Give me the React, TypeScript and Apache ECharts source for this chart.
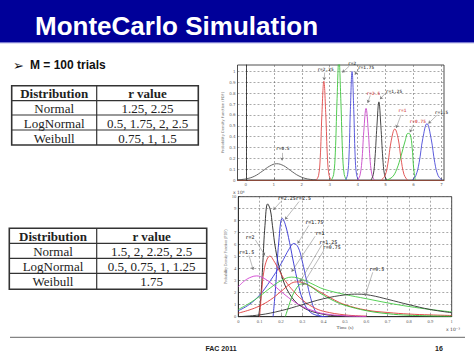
import React, { useEffect, useRef } from "react";
import * as echarts from "echarts";

const headerTitle = "MonteCarlo Simulation";
const bulletText = "M = 100 trials";
const tableHeader = ["Distribution", "r value"];
const table1Rows = [
  ["Normal", "1.25, 2.25"],
  ["LogNormal", "0.5, 1.75, 2, 2.5"],
  ["Weibull", "0.75, 1, 1.5"],
];
const table2Rows = [
  ["Normal", "1.5, 2, 2.25, 2.5"],
  ["LogNormal", "0.5, 0.75, 1, 1.25"],
  ["Weibull", "1.75"],
];
const footerText = "FAC 2011";
const pageNumber = "16";

const topXTicks = [0, 1, 2, 3, 4, 5, 6, 7];
const topYTicks = [0, 0.1, 0.2, 0.3, 0.4, 0.5, 0.6, 0.7, 0.8, 0.9, 1];

// top chart curves [x, pdf]
const topR050 = [[-0.3, 0.002], [0, 0.01], [0.3, 0.034], [0.6, 0.083], [0.85, 0.128], [1.1, 0.15], [1.35, 0.132], [1.6, 0.087], [1.9, 0.037], [2.2, 0.01], [2.55, 0.001]];
const topR225 = [[2.52, 0], [2.6, 0.04], [2.66, 0.2], [2.72, 0.6], [2.79, 0.91], [2.86, 0.6], [2.92, 0.2], [2.98, 0.04], [3.06, 0]];
const topR200 = [[3.06, 0], [3.14, 0.05], [3.2, 0.25], [3.26, 0.72], [3.33, 1.12], [3.4, 0.72], [3.46, 0.25], [3.52, 0.05], [3.6, 0]];
const topR175 = [[3.57, 0], [3.64, 0.05], [3.69, 0.22], [3.74, 0.65], [3.8, 1.0], [3.86, 0.65], [3.91, 0.22], [3.96, 0.05], [4.03, 0]];
const topR250 = [[4.0, 0], [4.08, 0.04], [4.15, 0.17], [4.22, 0.45], [4.3, 0.66], [4.38, 0.45], [4.45, 0.17], [4.52, 0.04], [4.6, 0]];
const topR125 = [[4.48, 0], [4.56, 0.05], [4.62, 0.2], [4.69, 0.5], [4.76, 0.72], [4.83, 0.5], [4.9, 0.2], [4.96, 0.05], [5.04, 0]];
const topR100 = [[4.85, 0], [4.98, 0.04], [5.08, 0.15], [5.2, 0.36], [5.33, 0.47], [5.45, 0.38], [5.55, 0.2], [5.66, 0.05], [5.78, 0]];
const topR075 = [[5.05, 0], [5.25, 0.03], [5.4, 0.1], [5.55, 0.22], [5.7, 0.36], [5.8, 0.43], [5.88, 0.42], [5.95, 0.3], [6.0, 0.12], [6.06, 0]];
const topR150 = [[5.95, 0], [6.08, 0.04], [6.2, 0.16], [6.33, 0.38], [6.48, 0.52], [6.63, 0.38], [6.76, 0.16], [6.88, 0.04], [7.02, 0]];

// bottom chart curves [time x1e-3, pdf x1e4]
const botR225 = [[0.095, 0], [0.105, 1.5], [0.115, 4.5], [0.125, 7.6], [0.1375, 9.4], [0.15, 8.9], [0.16, 7.6], [0.175, 5.6], [0.2, 3.6], [0.24, 1.9], [0.3, 0.8], [0.4, 0.2], [0.5, 0.05]];
const botR250 = [[0.163, 0], [0.175, 2.5], [0.19, 6.3], [0.206, 8.2], [0.22, 7.7], [0.24, 6.2], [0.26, 4.4], [0.28, 2.8], [0.3, 1.5], [0.33, 0.5], [0.37, 0.1], [0.42, 0]];
const botR175 = [[0, 0.5], [0.05, 1.0], [0.1, 1.8], [0.15, 3.0], [0.2, 4.4], [0.24, 5.7], [0.26, 6.1], [0.28, 5.8], [0.3, 4.6], [0.32, 3.0], [0.34, 1.5], [0.36, 0.5], [0.38, 0.1], [0.4, 0]];
const botR200 = [[0.1, 0], [0.11, 2.2], [0.12, 3.8], [0.135, 4.8], [0.148, 5.05], [0.165, 4.7], [0.19, 3.9], [0.22, 3.0], [0.26, 2.1], [0.3, 1.4], [0.35, 0.8], [0.4, 0.45], [0.5, 0.15], [0.6, 0.05]];
const botR150 = [[0, 2.5], [0.03, 3.0], [0.06, 3.3], [0.086, 3.4], [0.12, 3.2], [0.16, 2.7], [0.2, 2.1], [0.25, 1.4], [0.3, 0.85], [0.35, 0.5], [0.4, 0.25], [0.5, 0.07], [0.6, 0.02]];
const botR125 = [[0, 0.3], [0.05, 0.55], [0.1, 0.9], [0.15, 1.4], [0.2, 2.1], [0.25, 2.8], [0.28, 2.9], [0.32, 2.7], [0.38, 2.1], [0.45, 1.4], [0.5, 1.0], [0.6, 0.55], [0.7, 0.35], [0.8, 0.22], [0.9, 0.15], [1.0, 0.1]];
const botR075 = [[0, 0.6], [0.05, 1.1], [0.1, 1.7], [0.15, 2.4], [0.2, 3.0], [0.25, 3.3], [0.3, 3.1], [0.35, 2.7], [0.4, 2.3], [0.5, 1.85], [0.6, 1.5], [0.7, 1.15], [0.8, 0.85], [0.9, 0.6], [1.0, 0.4]];
const botR100 = [[0.22, 0], [0.235, 0.8], [0.25, 1.6], [0.27, 2.3], [0.29, 2.7], [0.31, 2.75], [0.34, 2.5], [0.38, 2.0], [0.45, 1.3], [0.5, 0.95], [0.6, 0.5], [0.7, 0.25], [0.8, 0.12], [1.0, 0.03]];
const botR050 = [[0, 0], [0.1, 0.15], [0.2, 0.5], [0.3, 1.0], [0.4, 1.5], [0.5, 1.82], [0.56, 1.88], [0.62, 1.78], [0.7, 1.45], [0.8, 1.0], [0.9, 0.6], [1.0, 0.33]];

// annotations: text, text x, text y, line start x, y, arrow end x, y, text colour
const topNotes: [string, number, number, number, number, number, number, string][] = [
  ["r=0.5", 1.32, 0.29, 1.3, 0.25, 1.29, 0.18, "#222"],
  ["r=2.25", 2.85, 1.02, 2.82, 0.99, 2.8, 0.92, "#222"],
  ["r=2", 3.8, 1.07, 3.7, 1.05, 3.45, 0.99, "#222"],
  ["r=1.75", 4.3, 1.04, 4.05, 1.03, 3.9, 0.97, "#222"],
  ["r=2.5", 4.56, 0.8, 4.45, 0.78, 4.36, 0.71, "#d03030"],
  ["r=1.25", 5.3, 0.815, 5.03, 0.81, 4.8, 0.745, "#222"],
  ["r=1", 5.6, 0.64, 5.55, 0.6, 5.38, 0.48, "#d03030"],
  ["r=0.75", 6.15, 0.535, 6.0, 0.51, 5.87, 0.44, "#d03030"],
  ["r=1.5", 7.0, 0.62, 6.85, 0.6, 6.53, 0.52, "#222"],
];
const botNotes: [string, number, number, number, number, number, number, string][] = [
  ["r=2.25", 0.227, 9.87, 0.2, 9.6, 0.164, 8.9, "#222"],
  ["r=2.5", 0.305, 9.87, 0.285, 9.6, 0.219, 8.1, "#222"],
  ["r=1.75", 0.356, 7.87, 0.33, 7.6, 0.278, 6.1, "#222"],
  ["r=1", 0.383, 6.95, 0.36, 6.7, 0.25, 3.75, "#222"],
  ["r=1.25", 0.422, 6.2, 0.39, 5.95, 0.289, 2.9, "#222"],
  ["r=0.75", 0.438, 5.78, 0.4, 5.5, 0.3, 2.6, "#222"],
  ["r=0.5", 0.649, 3.95, 0.63, 3.7, 0.594, 1.72, "#222"],
  ["r=2", 0.055, 6.67, 0.08, 6.4, 0.125, 5.1, "#222"],
  ["r=1.5", 0.039, 5.37, 0.05, 5.1, 0.07, 3.9, "#222"],
];

const topCurves: [number[][], string][] = [
  [topR050, "#555555"], [topR225, "#e04848"], [topR200, "#3cc43c"], [topR175, "#4a4ad8"],
  [topR250, "#c848c8"], [topR125, "#333333"], [topR100, "#e04848"], [topR075, "#3cc43c"], [topR150, "#4a4ad8"],
];
const botCurves: [number[][], string][] = [
  [botR225, "#222222"], [botR250, "#2f2fd0"], [botR175, "#3b3bd8"], [botR200, "#e04040"],
  [botR150, "#d040d0"], [botR125, "#e03a3a"], [botR075, "#44cc44"], [botR100, "#33c033"], [botR050, "#333333"],
];

function txt(x: number, y: number, text: string, font: string, fill: string, align = "left", valign = "middle") {
  return {
    type: "text",
    silent: true,
    style: { x, y, text, font, fill, align, textAlign: align, verticalAlign: valign, textVerticalAlign: valign },
  };
}

function makeTable(x0: number, x1: number, xDiv: number, rowYs: number[], rows: string[][]) {
  const els: any[] = [];
  const top = rowYs[0];
  const bottom = rowYs[rowYs.length - 1];
  els.push({ type: "rect", silent: true, shape: { x: x0, y: top, width: x1 - x0, height: bottom - top }, style: { fill: "#fff", stroke: "#333", lineWidth: 1.6 } });
  els.push({ type: "line", silent: true, shape: { x1: xDiv, y1: top, x2: xDiv, y2: bottom }, style: { stroke: "#333", lineWidth: 1.2 } });
  for (let i = 1; i < rowYs.length - 1; i++) {
    els.push({ type: "line", silent: true, shape: { x1: x0, y1: rowYs[i], x2: x1, y2: rowYs[i] }, style: { stroke: "#333", lineWidth: 1.2 } });
  }
  const c1 = (x0 + xDiv) / 2;
  const c2 = (xDiv + x1) / 2;
  const all = [tableHeader, ...rows];
  all.forEach((r, i) => {
    const cy = (rowYs[i] + rowYs[i + 1]) / 2 + 0.5;
    const font = i === 0 ? 'bold 13px "Liberation Serif"' : '13px "Liberation Serif"';
    els.push(txt(c1, cy, r[0], font, "#222", "center"));
    els.push(txt(c2, cy, r[1], font, "#222", "center"));
  });
  return els;
}

function noteSeries(notes: typeof topNotes, idx: number, fontSize: number) {
  return {
    type: "scatter",
    xAxisIndex: idx,
    yAxisIndex: idx,
    symbolSize: 1,
    clip: false,
    silent: true,
    itemStyle: { color: "transparent" },
    label: {
      show: true,
      position: "inside",
      formatter: "{b}",
      fontSize,
      fontFamily: "DejaVu Sans Mono",
      fontWeight: "bold",
    },
    data: notes.map((n) => ({ name: n[0], value: [n[1], n[2]], label: { color: n[7] } })),
    markLine: {
      silent: true,
      symbol: ["none", "arrow"],
      symbolSize: 3,
      label: { show: false },
      lineStyle: { color: "#777", width: 0.5, type: "solid" },
      data: notes.map((n) => [{ coord: [n[3], n[4]] }, { coord: [n[5], n[6]] }]),
    },
  };
}

export default function App() {
  const ref = useRef<HTMLDivElement>(null);
  useEffect(() => {
    if (!ref.current) return;
    const chart = echarts.init(ref.current, undefined, { renderer: "svg" });
    const splitStyle = { type: [2, 2], color: "#555", width: 0.5 };
    const graphic: any[] = [
      { type: "rect", silent: true, shape: { x: 0, y: 0, width: 474, height: 42 }, style: { fill: "#000099" } },
      { type: "rect", silent: true, shape: { x: 0, y: 42, width: 474, height: 1.2 }, style: { fill: "#7a7ad0" } },
      txt(35, 25.5, headerTitle, 'bold 26px "Liberation Sans"', "#ffffff"),
      txt(13, 65, "➢", '13px "DejaVu Sans"', "#111"),
      txt(30, 64.5, bulletText, 'bold 12px "Liberation Sans"', "#111"),
      ...makeTable(11.7, 198.3, 96.7, [85.7, 100.7, 115, 130, 145], table1Rows),
      ...makeTable(9.3, 206.7, 96.7, [228.3, 243.3, 258.3, 273.3, 289.3], table2Rows),
      { type: "line", silent: true, shape: { x1: 10, y1: 337.3, x2: 465, y2: 337.3 }, style: { stroke: "#666", lineWidth: 1 } },
      txt(221, 348, footerText, 'bold 7px "Liberation Sans"', "#222", "center"),
      txt(439, 348, pageNumber, 'bold 7px "Liberation Sans"', "#222", "center"),
      txt(233, 192.5, "x 10⁴", '4.5px "DejaVu Sans"', "#444"),
      txt(446, 329.5, "x 10⁻³", '4.5px "DejaVu Sans"', "#444"),
    ];
    const option: any = {
      animation: false,
      backgroundColor: "#ffffff",
      graphic,
      grid: [
        { left: 237.5, top: 65, width: 206.5, height: 115, show: true, borderColor: "#222", borderWidth: 0.8, backgroundColor: "transparent" },
        { left: 238.3, top: 196.7, width: 213.4, height: 120, show: true, borderColor: "#222", borderWidth: 0.8, backgroundColor: "transparent" },
      ],
      xAxis: [
        {
          gridIndex: 0, type: "value", min: -0.3, max: 7.09,
          axisLine: { show: true, lineStyle: { color: "#8a4a3a", width: 1.2 } },
          axisTick: { show: true, inside: true, length: 2, customValues: topXTicks, lineStyle: { color: "#333", width: 0.5 } },
          axisLabel: { customValues: topXTicks, fontSize: 4, color: "#666", margin: 2.5, fontFamily: "DejaVu Sans" },
          splitLine: { show: true, lineStyle: splitStyle },
        },
        {
          gridIndex: 1, type: "value", min: 0, max: 1, interval: 0.1,
          name: "Time (s)", nameLocation: "middle", nameGap: 7,
          nameTextStyle: { fontSize: 5, color: "#444", fontFamily: "Liberation Serif" },
          axisLine: { show: true, lineStyle: { color: "#222", width: 0.8 } },
          axisTick: { show: true, inside: true, length: 2, lineStyle: { color: "#333", width: 0.5 } },
          axisLabel: { fontSize: 4.5, color: "#555", margin: 2.5, fontFamily: "Liberation Serif" },
          splitLine: { show: true, lineStyle: splitStyle },
        },
      ],
      yAxis: [
        {
          gridIndex: 0, type: "value", min: 0, max: 1.06,
          name: "Probability Density Function (PDF)", nameLocation: "middle", nameGap: 9,
          nameTextStyle: { fontSize: 3.6, color: "#777", fontFamily: "DejaVu Sans" },
          axisLine: { show: true, lineStyle: { color: "#222", width: 0.8 } },
          axisTick: { show: true, inside: true, length: 2, customValues: topYTicks, lineStyle: { color: "#333", width: 0.5 } },
          axisLabel: { customValues: topYTicks, fontSize: 4, color: "#666", margin: 2, fontFamily: "DejaVu Sans" },
          splitLine: { show: true, lineStyle: splitStyle },
        },
        {
          gridIndex: 1, type: "value", min: 0, max: 10, interval: 1,
          name: "Probability Density Function (PDF)", nameLocation: "middle", nameGap: 7,
          nameTextStyle: { fontSize: 3.8, color: "#555", fontFamily: "Liberation Serif" },
          axisLine: { show: true, lineStyle: { color: "#222", width: 0.8 } },
          axisTick: { show: true, inside: true, length: 2, lineStyle: { color: "#333", width: 0.5 } },
          axisLabel: { fontSize: 4.5, color: "#555", margin: 2, fontFamily: "Liberation Serif" },
          splitLine: { show: true, lineStyle: splitStyle },
        },
      ],
      series: [
        ...topCurves.map(([d, c]) => ({
          type: "line", xAxisIndex: 0, yAxisIndex: 0, data: d, showSymbol: false, smooth: 0.4,
          clip: true, silent: true, lineStyle: { color: c, width: 0.9 }, itemStyle: { color: c },
        })),
        ...botCurves.map(([d, c]) => ({
          type: "line", xAxisIndex: 1, yAxisIndex: 1, data: d, showSymbol: false, smooth: 0.4,
          clip: true, silent: true, lineStyle: { color: c, width: 0.9 }, itemStyle: { color: c },
        })),
        noteSeries(topNotes, 0, 4.5),
        noteSeries(botNotes, 1, 5),
      ],
    };
    chart.setOption(option);
    return () => chart.dispose();
  }, []);
  return <div ref={ref} style={{ position: "fixed", left: 0, top: 0, width: 474, height: 355 }} />;
}
